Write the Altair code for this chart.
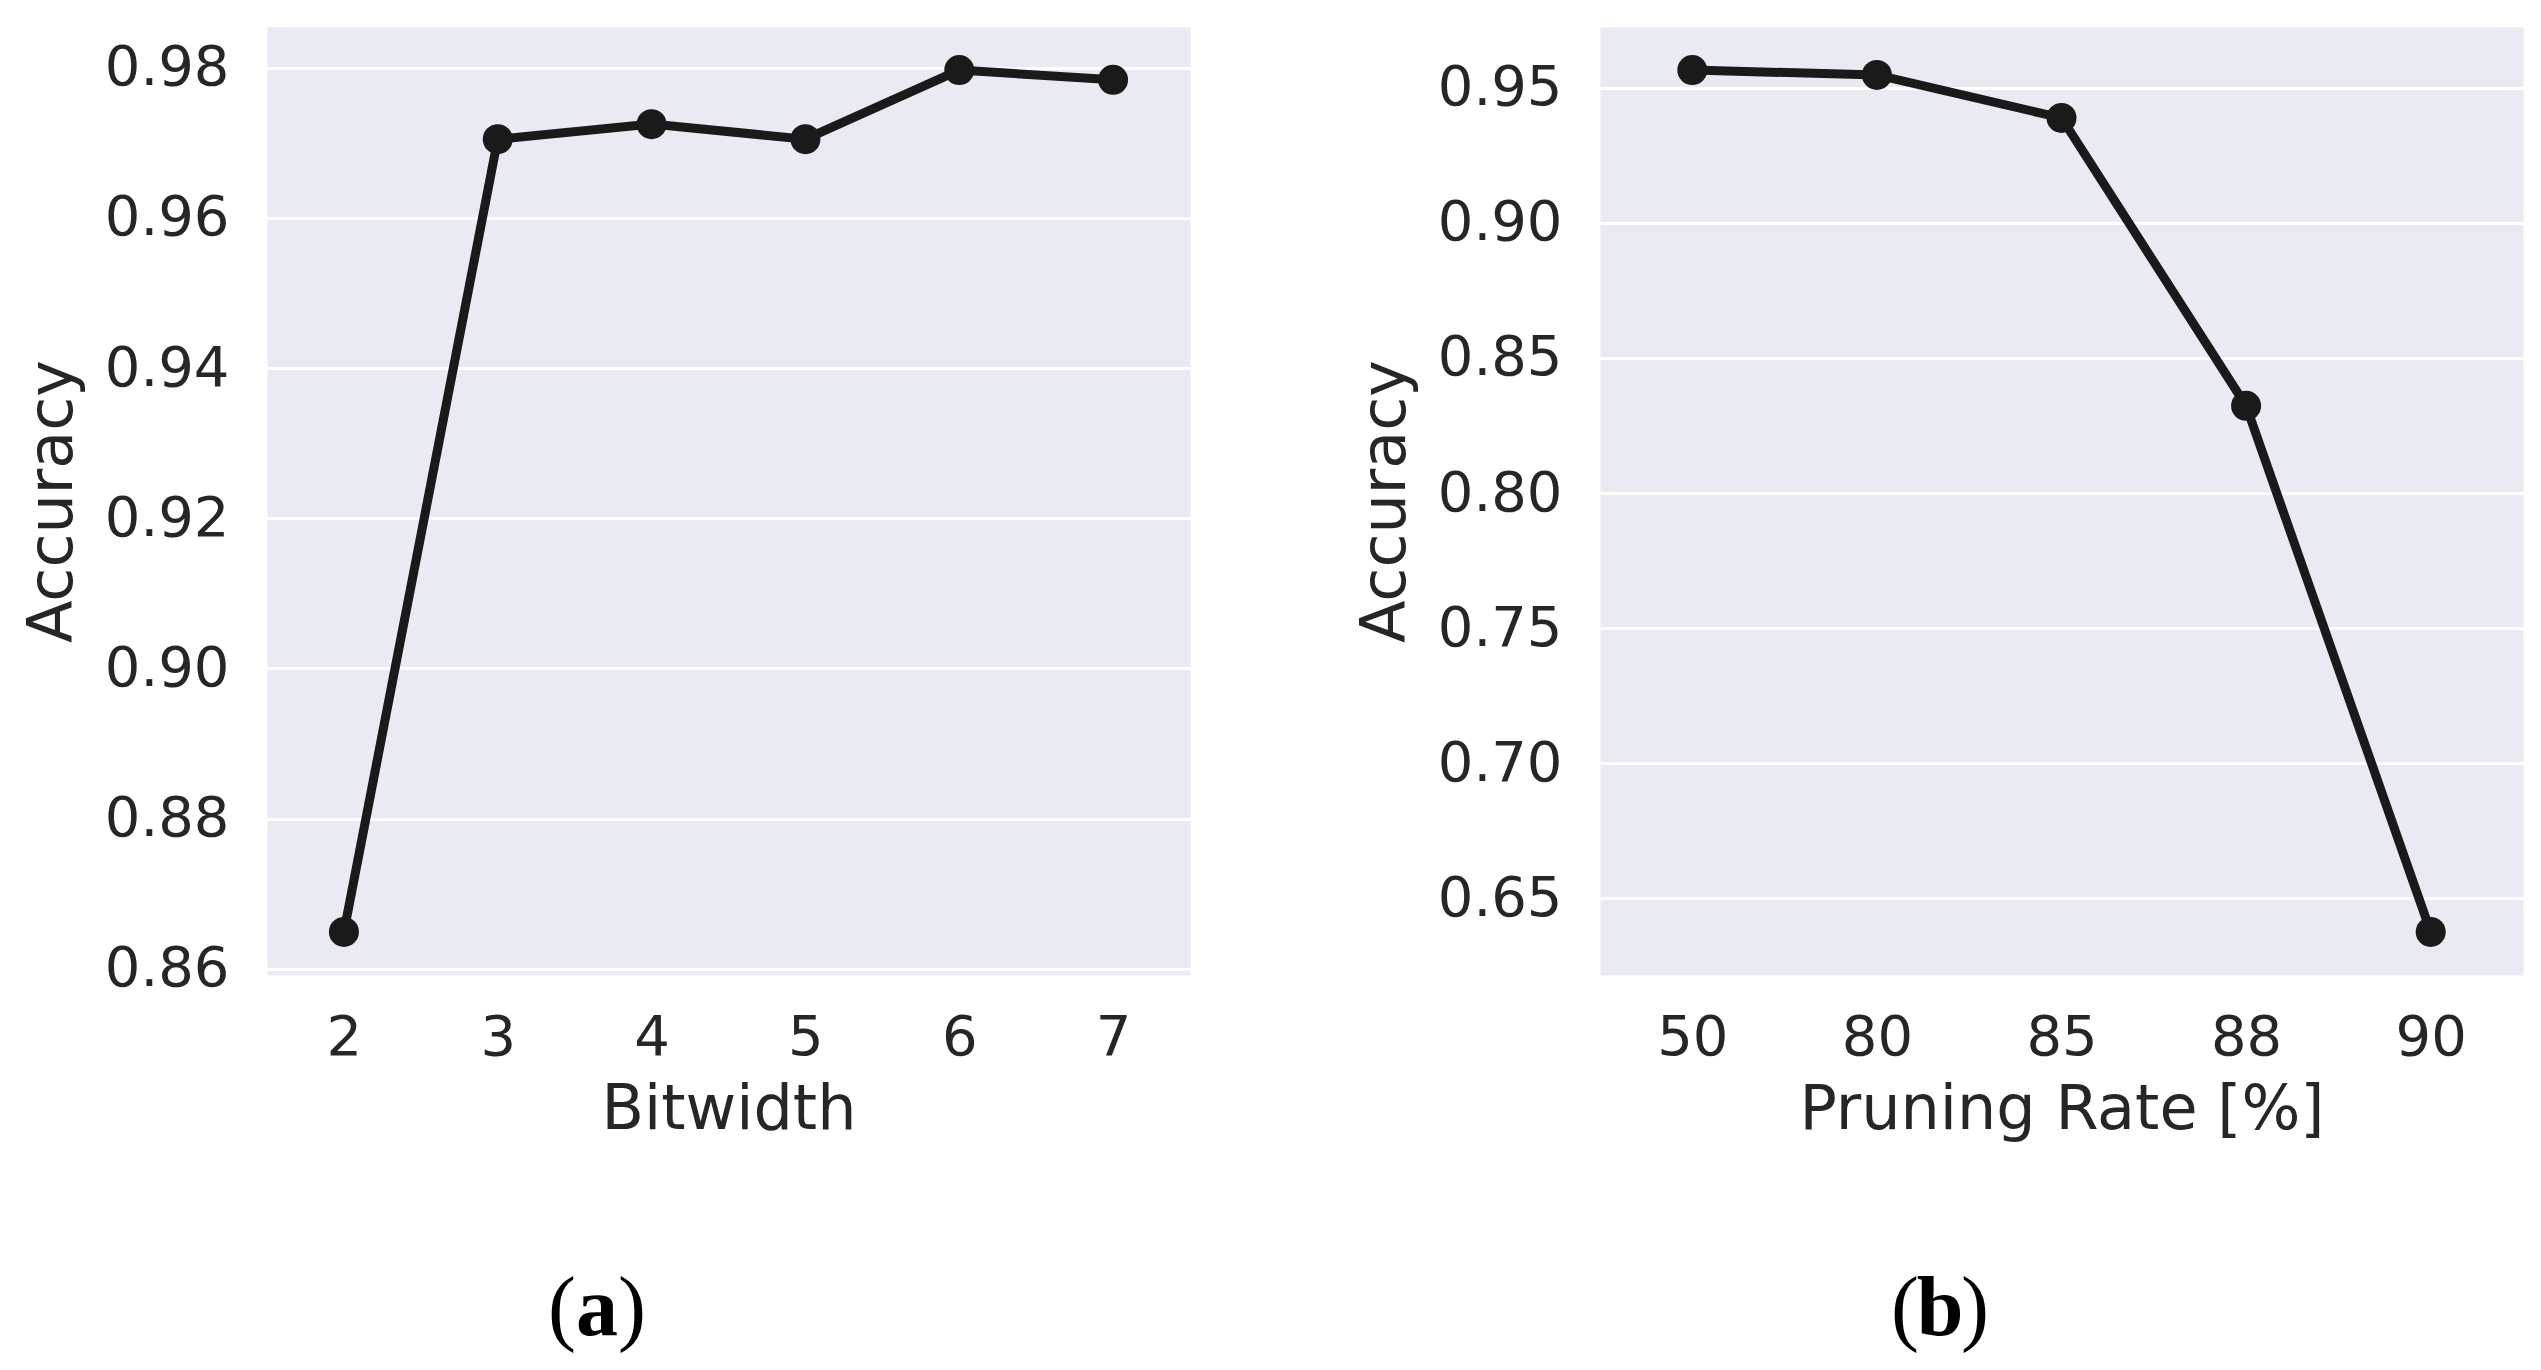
import altair as alt
import pandas as pd

# ---- data ----
bitwidth = ["2", "3", "4", "5", "6", "7"]
acc_bitwidth = [0.8649, 0.9705, 0.9725, 0.9705, 0.9797, 0.9784]
ticks_bitwidth = [0.86, 0.88, 0.90, 0.92, 0.94, 0.96, 0.98]

pruning = ["50", "80", "85", "88", "90"]
acc_pruning = [0.9566, 0.9548, 0.9389, 0.8323, 0.6375]
ticks_pruning = [0.65, 0.70, 0.75, 0.80, 0.85, 0.90, 0.95]

captions = ["a", "b"]

INK = "#1a1a1a"
TXT = "#262626"
W, H = 923, 948
CAP_Y = 1308
CAP_SIZE = 84
HALF_A = CAP_SIZE * 0.25


def margin_domain(vals):
    lo, hi = min(vals), max(vals)
    r = hi - lo
    return [lo - 0.05 * r, hi + 0.05 * r]


def panel(cats, vals, ticks, xtitle, letter, cap_x):
    df = pd.DataFrame({"x": cats, "y": vals})
    x = alt.X("x:O", sort=cats, title=xtitle,
              scale=alt.Scale(type="point", padding=0.5))
    y = alt.Y("y:Q", title="Accuracy",
              scale=alt.Scale(domain=margin_domain(vals), zero=False, nice=False),
              axis=alt.Axis(values=ticks, format=".2f"))
    base = alt.Chart(df).encode(x=x, y=y)
    line = base.mark_line(color=INK, strokeWidth=9)
    pts = base.mark_circle(color=INK, size=900, opacity=1)

    cdf = pd.DataFrame({"c": [letter]})
    cbase = alt.Chart(cdf).encode(x=alt.value(cap_x), y=alt.value(CAP_Y))
    cap_a = cbase.mark_text(font="Liberation Serif", fontSize=CAP_SIZE,
                            fontWeight="bold", color="black", align="center",
                            baseline="alphabetic").encode(text="c:N")
    cap_l = cbase.mark_text(font="Liberation Serif", fontSize=CAP_SIZE,
                            color="black", align="right", baseline="alphabetic",
                            dx=-HALF_A, text="(")
    cap_r = cbase.mark_text(font="Liberation Serif", fontSize=CAP_SIZE,
                            color="black", align="left", baseline="alphabetic",
                            dx=HALF_A, text=")")
    return alt.layer(line, pts, cap_l, cap_a, cap_r).properties(width=W, height=H)


left = panel(bitwidth, acc_bitwidth, ticks_bitwidth, "Bitwidth", captions[0], 330)
right = panel(pruning, acc_pruning, ticks_pruning, "Pruning Rate [%]", captions[1], 340)

chart = (
    alt.hconcat(left, right, spacing=162)
    .properties(padding={"left": 12, "top": 18, "right": 4, "bottom": 0},
                background="white")
    .configure_view(fill="#EAEAF2", stroke="transparent")
    .configure_axis(labelFont="DejaVu Sans", labelFontSize=56, labelColor=TXT,
                    titleFont="DejaVu Sans", titleFontSize=62,
                    titleFontWeight="normal", titleColor=TXT,
                    ticks=False, tickSize=0, domain=False, grid=False)
    .configure_axisY(grid=True, gridColor="white", gridWidth=3,
                     labelPadding=38, titlePadding=20)
    .configure_axisX(labelPadding=35, titlePadding=14, labelAngle=0)
)

chart.save("out.html", embed_options={"renderer": "svg", "actions": False})
